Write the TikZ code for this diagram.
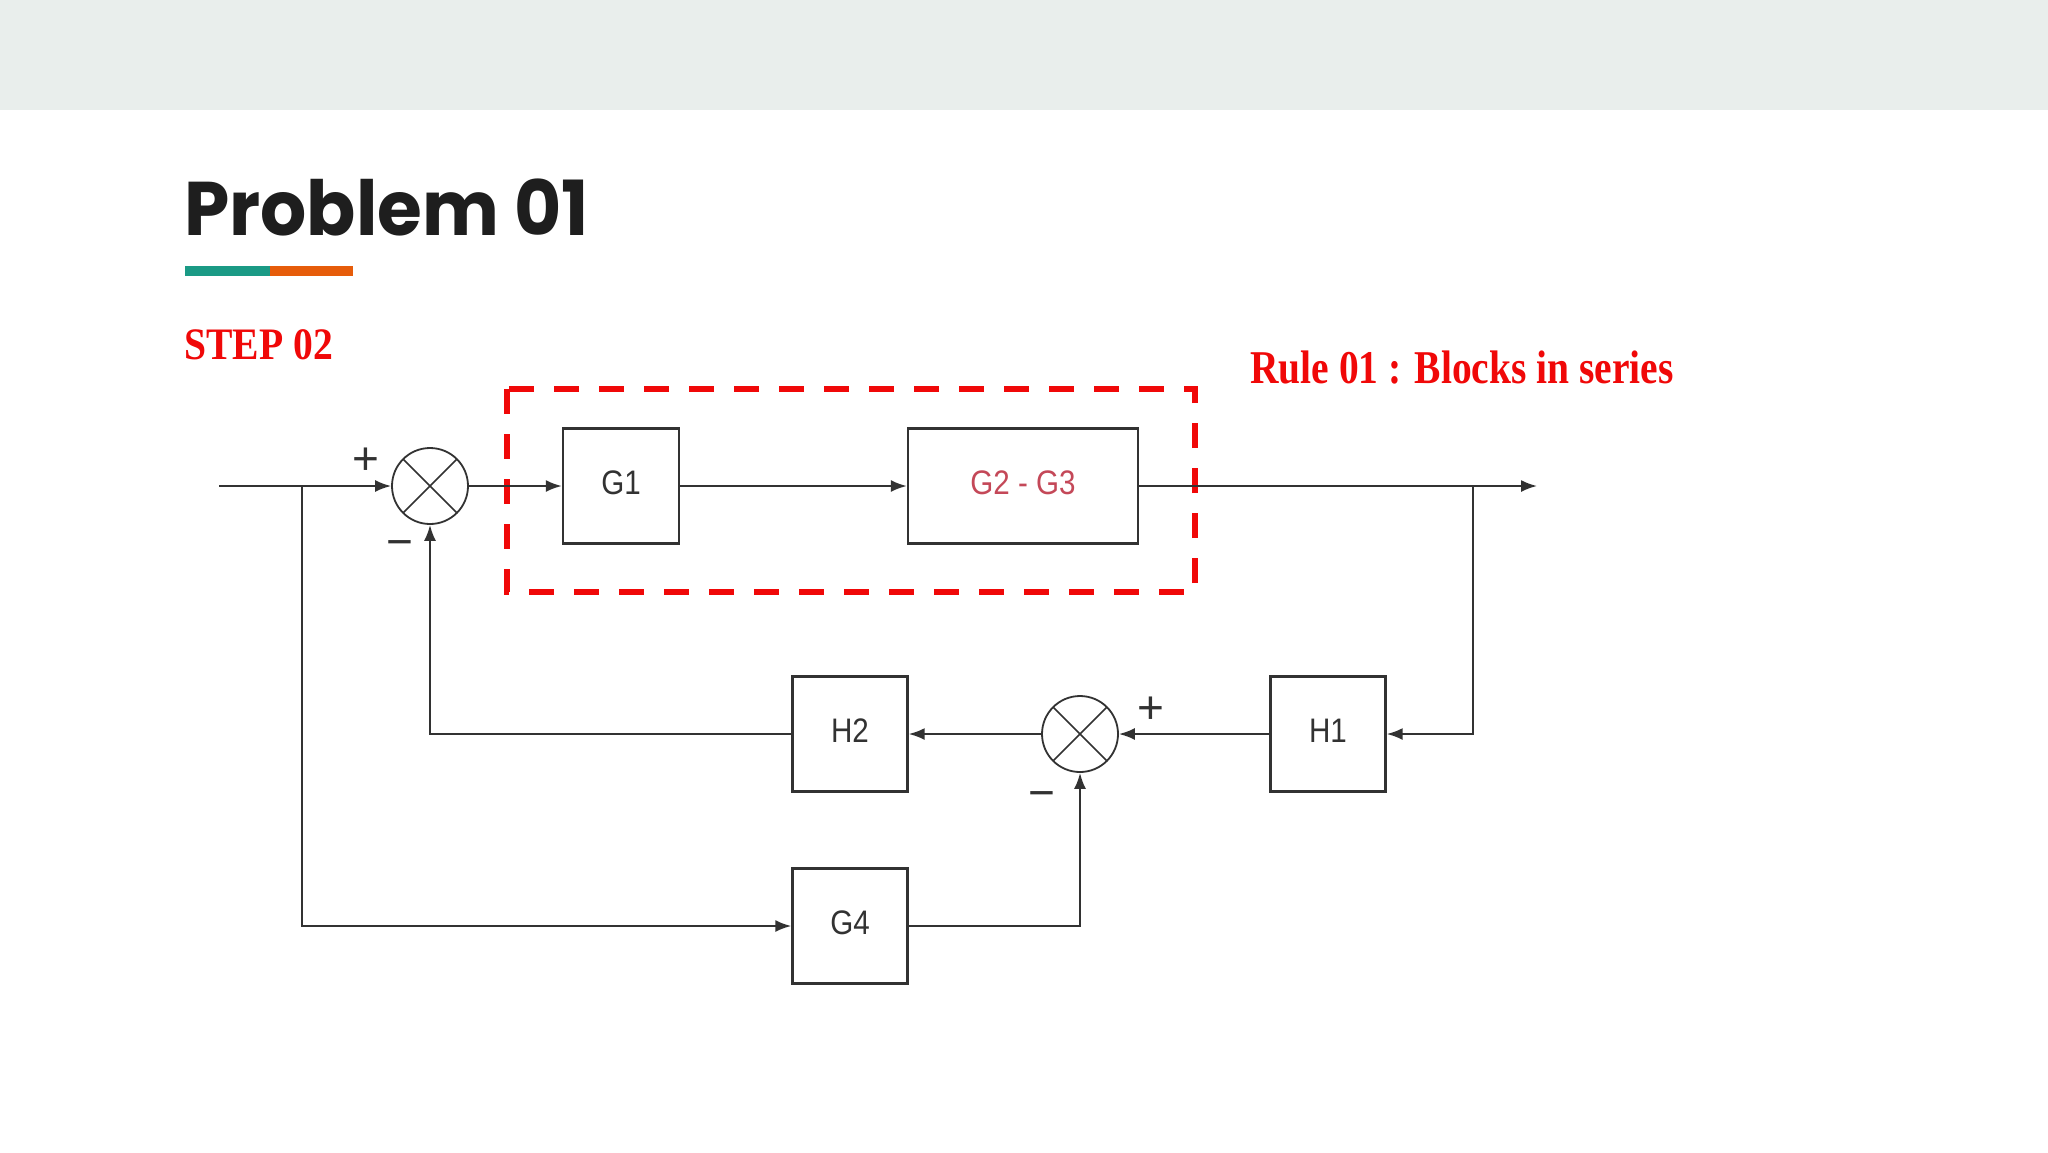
\documentclass[tikz,border=0pt]{standalone}
\usepackage{fontspec}
\setmainfont{Liberation Sans}
\newfontfamily\titlefont{Poppins}
\newfontfamily\timesfont{Liberation Serif}
\usetikzlibrary{arrows.meta}
\definecolor{headbg}{RGB}{233,238,236}
\definecolor{teal1}{RGB}{26,154,133}
\definecolor{orange1}{RGB}{230,92,10}
\definecolor{redt}{RGB}{240,8,8}
\definecolor{linec}{RGB}{50,50,50}
\definecolor{pinkt}{RGB}{196,72,88}
\definecolor{titlec}{RGB}{30,30,30}
\tikzset{
  blk/.style={draw=linec, line width=1.2pt, inner sep=0pt, font=\fontsize{17}{20}\selectfont, text=linec},
  lbl/.style={yshift=1.8pt},
  sumj/.style={circle, draw=linec, line width=0.9pt, minimum size=38pt, inner sep=0pt,
    path picture={\draw[linec, line width=0.8pt] (path picture bounding box.north west) -- (path picture bounding box.south east) (path picture bounding box.north east) -- (path picture bounding box.south west);}},
  conn/.style={draw=linec, line width=1pt},
  arr/.style={conn, -{Latex[length=8pt,width=6pt]}},
  sgn/.style={font=\fontsize{23}{25}\selectfont, text=linec, inner sep=0pt}
}
\begin{document}
\begin{tikzpicture}[x=0.5pt, y=-0.5pt]
\useasboundingbox (0,0) rectangle (2048,1152);
\fill[white] (0,0) rectangle (2048,1152);
\fill[headbg] (0,0) rectangle (2048,110);
% title
\node[anchor=base west, inner sep=0pt, text=titlec] (title) at (184,235)
  {\scalebox{0.955}[1]{\titlefont\bfseries\fontsize{38}{44}\selectfont Problem 01}};
\fill[teal1] (185,266) rectangle (270,276);
\fill[orange1] (270,266) rectangle (353,276);
\node[anchor=base west, inner sep=0pt, text=redt] (step) at (184,359)
  {\scalebox{0.88}[1]{\timesfont\bfseries\fontsize{22.5}{26}\selectfont STEP 02}};
\node[anchor=base west, inner sep=0pt, text=redt] (rule) at (1250,383)
  {\scalebox{0.84}[1]{\timesfont\bfseries\fontsize{23.5}{27}\selectfont Rule 01 : Blocks in series}};
% dashed box
\draw[redt, line width=2.8pt, dash pattern=on 12.5pt off 10pt] (507,389) rectangle (1195,592);
% nodes
\coordinate (in) at (219,486);
\coordinate (b1) at (302,486);
\node[sumj] (S1) at (430,486) {};
\node[blk, minimum width=58pt, minimum height=57.5pt] (G1) at (621,486) {};
\node[blk, minimum width=115pt, minimum height=57.5pt] (G23) at (1023,486) {};
\coordinate (b2) at (1473,486);
\coordinate (out) at (1537,486);
\node[blk, minimum width=57.5pt, minimum height=57.5pt] (H1) at (1328,734) {};
\node[sumj] (S2) at (1080,734) {};
\node[blk, minimum width=57.5pt, minimum height=57.5pt] (H2) at (850,734) {};
\node[blk, minimum width=57.5pt, minimum height=57.5pt] (G4) at (850,926) {};
% labels
\node[blk, draw=none, lbl] (G1t) at (G1) {\scalebox{0.87}[1]{G1}};
\node[blk, draw=none, lbl, text=pinkt] (G23t) at (G23) {\scalebox{0.87}[1]{G2 - G3}};
\node[blk, draw=none, lbl] (H1t) at (H1) {\scalebox{0.87}[1]{H1}};
\node[blk, draw=none, lbl] (H2t) at (H2) {\scalebox{0.87}[1]{H2}};
\node[blk, draw=none, lbl] (G4t) at (G4) {\scalebox{0.87}[1]{G4}};
% signs
\node[sgn] (p1) at (366,461) {+};
\node[sgn] (m1) at (400,549) {\textminus};
\node[sgn] (p2) at (1151,710) {+};
\node[sgn] (m2) at (1042,800) {\textminus};
% connectors
\draw[arr] (in) -- (S1);
\draw[arr] (S1) -- (G1);
\draw[arr] (G1) -- (G23);
\draw[arr] (G23) -- (out);
\draw[arr] (b2) |- (H1);
\draw[arr] (H1) -- (S2);
\draw[arr] (S2) -- (H2);
\draw[arr] (H2) -| (S1);
\draw[arr] (b1) |- (G4);
\draw[arr] (G4) -| (S2);
\end{tikzpicture}
\end{document}
